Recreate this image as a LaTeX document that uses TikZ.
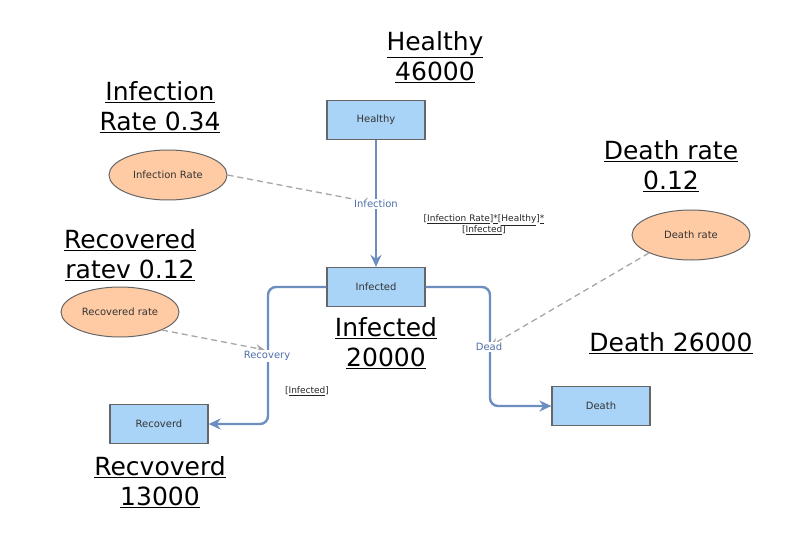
\documentclass[tikz,border=0pt]{standalone}
\usepackage{fontspec}
\setmainfont{DejaVu Sans}
\newcommand\myul[1]{\underline{#1}}
\usetikzlibrary{shapes.geometric,arrows.meta}
\definecolor{boxf}{HTML}{A9D4F7}
\definecolor{ellf}{HTML}{FFCBA4}
\definecolor{flow}{HTML}{6C8EBF}
\definecolor{lab}{HTML}{4F6FA8}
\begin{document}
\begin{tikzpicture}[x=1pt,y=-1pt,
 box/.style={draw=black!60,fill=boxf,line width=1.2pt,minimum width=98pt,minimum height=39pt,font=\fontsize{10}{12}\selectfont,text=black!80},
 ell/.style={ellipse,draw=black!60,fill=ellf,line width=1pt,minimum width=118pt,minimum height=50pt,inner sep=0pt,font=\fontsize{10}{12}\selectfont,text=black!80},
 big/.style={align=center,font=\fontsize{25}{30}\selectfont},
 fl/.style={draw=flow,line width=2.4pt,rounded corners=8pt,-{Stealth[length=12pt,width=11pt]}},
 dsh/.style={draw=gray!70,line width=1.3pt,dash pattern=on 6pt off 4pt,-{Stealth[length=9pt,width=8pt]}},
 fln/.style={text=lab,font=\fontsize{10}{12}\selectfont,fill=white,inner sep=1pt},
 eq/.style={align=center,font=\fontsize{9}{11}\selectfont,text=black!85}]
\useasboundingbox (0,0) rectangle (800,535);
\node[box] (h) at (376,120) {Healthy};
\node[box] (i) at (376,287) {Infected};
\node[box] (r) at (159,424) {Recoverd};
\node[box] (d) at (601,406) {Death};
\node[ell] (ir) at (168,175) {Infection Rate};
\node[ell] (rr) at (120,312) {Recovered rate};
\node[ell] (dr) at (691,235) {Death rate};
\draw[fl] (h) -- (i);
\draw[fl] (i.west) -| (268,424) -- (r.east);
\draw[fl] (i.east) -| (490,406) -- (d.west);
\coordinate (ci) at (374,203);
\coordinate (cr) at (265,350);
\coordinate (cd) at (490,346);
\draw[dsh] (ir.east) -- (ci);
\draw[dsh] (rr.south east) -- (cr);
\draw[dsh] (dr.south west) -- (cd);
\node[fln] (li) at (376,204) {Infection};
\node[fln] (lr) at (267,356) {Recovery};
\node[fln] (ld) at (489,347) {Dead};
\node[eq] (e1) at (484,225) {[\myul{Infection Rate}]\myul{*}[\myul{Healthy}]\myul{*}\\{}[\myul{Infected}]};
\node[eq] (e2) at (307,391) {[\myul{Infected}]};
\node[big] (b1) at (160,107) {\myul{Infection}\\\myul{Rate 0.34}};
\node[big] (b2) at (435,57) {\myul{Healthy}\\\myul{46000}};
\node[big] (b3) at (671,166) {\myul{Death rate}\\\myul{0.12}};
\node[big] (b4) at (130,255) {\myul{Recovered}\\\myul{ratev 0.12}};
\node[big] (b5) at (386,343) {\myul{Infected}\\\myul{20000}};
\node[big] (b6) at (671,343) {\myul{Death 26000}};
\node[big] (b7) at (160,482) {\myul{Recvoverd}\\\myul{13000}};
\end{tikzpicture}
\end{document}
